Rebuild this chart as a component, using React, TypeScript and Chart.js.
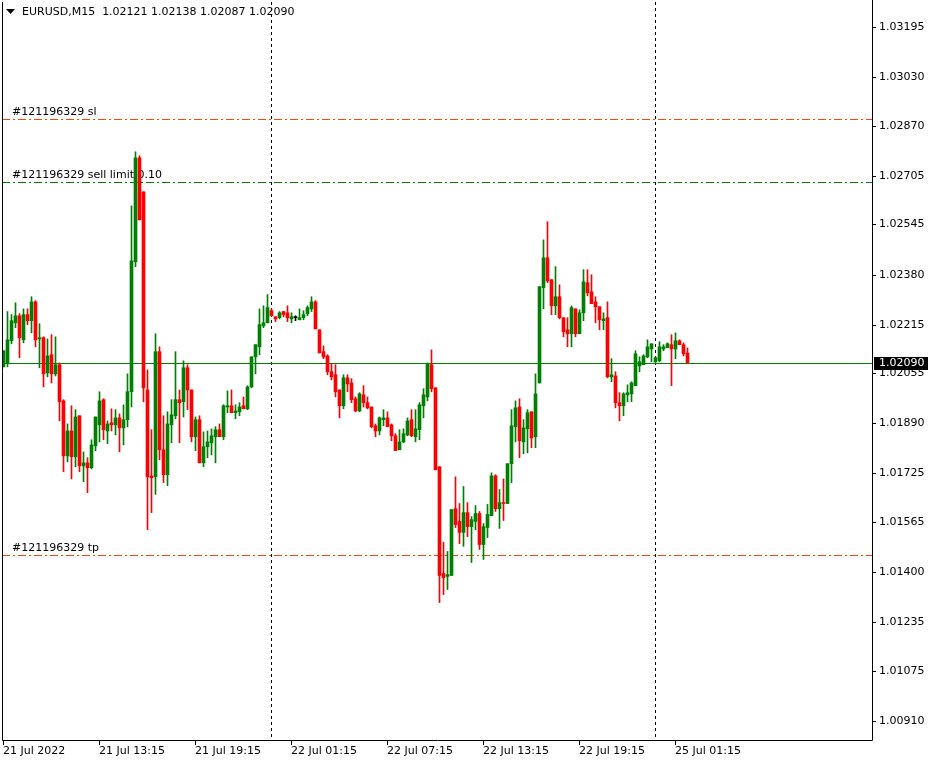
import React, { useEffect, useRef } from "react";
import { Chart, registerables } from "chart.js";

Chart.register(...registerables);

// ---- Data (EURUSD M15, 21 Jul 2022 07:15 onwards) ----
const openPrices = [
  1.02076, 1.02089, 1.02162, 1.02221, 1.02244, 1.02165, 1.02248, 1.02228, 1.0229, 1.02168,
  1.02172, 1.02056, 1.02116, 1.02053, 1.02083, 1.01964, 1.01783, 1.01865, 1.0178, 1.01915,
  1.0175, 1.0176, 1.01744, 1.01816, 1.01885, 1.01968, 1.01865, 1.01892, 1.01885, 1.01908,
  1.01875, 1.01902, 1.01994, 1.02422, 1.02764, 1.02652, 1.02, 1.01717, 1.01714, 1.02126,
  1.01803, 1.01721, 1.01885, 1.01915, 1.01968, 1.01961, 1.02073, 1.02, 1.01846, 1.01902,
  1.0176, 1.01813, 1.01826, 1.01846, 1.01869, 1.01846, 1.01944, 1.01948, 1.01925, 1.01928,
  1.01948, 1.01938, 1.0201, 1.02109, 1.02142, 1.02211, 1.02221, 1.02261, 1.02241, 1.02238,
  1.02258, 1.02254, 1.02234, 1.02238, 1.02231, 1.02238, 1.02251, 1.02267, 1.0229, 1.02198,
  1.02126, 1.02112, 1.0206, 1.0205, 1.02, 1.01948, 1.0204, 1.02023, 1.01971, 1.01931,
  1.01984, 1.01958, 1.01944, 1.01882, 1.01865, 1.01902, 1.01908, 1.01885, 1.01849, 1.01803,
  1.01829, 1.01852, 1.01902, 1.01846, 1.01869, 1.01948, 1.01977, 1.02083, 1.02007, 1.01747,
  1.01396, 1.01386, 1.01389, 1.01609, 1.01567, 1.01531, 1.01596, 1.0155, 1.01567, 1.01593,
  1.01491, 1.01547, 1.01586, 1.01717, 1.01609, 1.01629, 1.01626, 1.01757, 1.01879, 1.01944,
  1.01829, 1.01872, 1.01928, 1.01846, 1.02023, 1.02337, 1.02435, 1.02363, 1.02277, 1.02307,
  1.02238, 1.02198, 1.02185, 1.02267, 1.02185, 1.02254, 1.02353, 1.02323, 1.0229, 1.02274,
  1.02228, 1.02238, 1.02043, 1.02046, 1.01958, 1.01948, 1.01984, 1.01987, 1.02014, 1.02079,
  1.02083, 1.02109, 1.02135, 1.02093, 1.02096, 1.02135, 1.02139, 1.02149, 1.02135, 1.02162,
  1.02149, 1.02121,
];
const highPrices = [
  1.02129, 1.02258, 1.02248, 1.02287, 1.02251, 1.02267, 1.02267, 1.02307, 1.02294, 1.02218,
  1.02175, 1.02168, 1.02182, 1.02175, 1.02089, 1.01968, 1.01888, 1.01948, 1.01935, 1.01915,
  1.01796, 1.01777, 1.01836, 1.01911, 1.01994, 1.01971, 1.01898, 1.01938, 1.01935, 1.01921,
  1.01951, 1.02053, 1.02606, 1.02784, 1.02771, 1.02652, 1.02066, 1.01869, 1.02185, 1.02142,
  1.01915, 1.01928, 1.01968, 1.02126, 1.02, 1.02096, 1.02083, 1.02, 1.01911, 1.01915,
  1.01862, 1.01865, 1.01872, 1.01879, 1.01888, 1.01951, 1.01997, 1.02, 1.01951, 1.01958,
  1.01977, 1.02014, 1.02109, 1.02149, 1.02267, 1.02277, 1.02314, 1.02267, 1.02241, 1.02258,
  1.02258, 1.02277, 1.02254, 1.02244, 1.02267, 1.02261, 1.02277, 1.02307, 1.02294, 1.02198,
  1.02145, 1.02116, 1.02086, 1.02083, 1.02, 1.0205, 1.0205, 1.02037, 1.01977, 1.01991,
  1.02014, 1.01977, 1.01944, 1.01888, 1.01911, 1.01935, 1.01928, 1.01888, 1.01856, 1.01869,
  1.01872, 1.01908, 1.01935, 1.01935, 1.01958, 1.02004, 1.02089, 1.02132, 1.02007, 1.01747,
  1.01498, 1.01468, 1.01606, 1.01714, 1.01626, 1.01682, 1.01629, 1.01583, 1.01619, 1.016,
  1.0156, 1.01623, 1.01727, 1.01721, 1.01672, 1.01707, 1.01757, 1.01935, 1.01964, 1.01971,
  1.01902, 1.01935, 1.01928, 1.02053, 1.0234, 1.02494, 1.02554, 1.02363, 1.02406, 1.02346,
  1.02238, 1.02238, 1.02277, 1.02267, 1.02264, 1.02396, 1.02396, 1.02379, 1.02307, 1.02274,
  1.02254, 1.0229, 1.02103, 1.0206, 1.01991, 1.01991, 1.02017, 1.02027, 1.02129, 1.02109,
  1.02116, 1.02165, 1.02152, 1.02109, 1.02159, 1.02149, 1.02155, 1.02182, 1.02188, 1.02165,
  1.02155, 1.02138,
];
const lowPrices = [
  1.02076, 1.02076, 1.02152, 1.02205, 1.02106, 1.02155, 1.02215, 1.02188, 1.02142, 1.02073,
  1.0201, 1.02043, 1.02023, 1.02046, 1.01898, 1.01731, 1.01763, 1.01707, 1.01747, 1.01731,
  1.01698, 1.01662, 1.0174, 1.018, 1.01829, 1.01836, 1.01823, 1.01865, 1.01852, 1.01796,
  1.01819, 1.01879, 1.01944, 1.02406, 1.0256, 1.01961, 1.0154, 1.01596, 1.01656, 1.0177,
  1.01695, 1.01685, 1.01826, 1.01905, 1.01826, 1.01911, 1.01935, 1.01829, 1.018, 1.0176,
  1.01747, 1.01777, 1.01786, 1.0176, 1.01846, 1.01836, 1.01925, 1.01925, 1.01905, 1.01915,
  1.01938, 1.01935, 1.02007, 1.02053, 1.02116, 1.02205, 1.02221, 1.02244, 1.02225, 1.02234,
  1.02241, 1.02225, 1.02221, 1.02228, 1.02231, 1.02231, 1.02244, 1.02258, 1.02201, 1.02122,
  1.02103, 1.0205, 1.02033, 1.01977, 1.01908, 1.01938, 1.01994, 1.01958, 1.01928, 1.01928,
  1.01944, 1.01938, 1.01875, 1.01846, 1.01852, 1.01882, 1.01879, 1.01833, 1.018, 1.01803,
  1.01826, 1.01849, 1.01846, 1.01829, 1.01836, 1.01908, 1.01964, 1.01994, 1.01737, 1.013,
  1.01326, 1.01343, 1.01389, 1.01547, 1.01494, 1.01485, 1.01517, 1.01432, 1.0154, 1.01475,
  1.01442, 1.01514, 1.01586, 1.016, 1.01544, 1.0157, 1.01626, 1.01695, 1.01829, 1.01777,
  1.0179, 1.01793, 1.0181, 1.0181, 1.02023, 1.02267, 1.02353, 1.02248, 1.02248, 1.02234,
  1.02175, 1.02142, 1.02142, 1.02175, 1.02185, 1.02228, 1.0231, 1.02284, 1.02221, 1.02198,
  1.02198, 1.0204, 1.02027, 1.01941, 1.01898, 1.01915, 1.01961, 1.01961, 1.02014, 1.0206,
  1.02083, 1.02106, 1.02093, 1.02089, 1.02093, 1.02129, 1.02139, 1.02014, 1.02103, 1.02149,
  1.02112, 1.02087,
];
const closePrices = [
  1.02129, 1.02165, 1.02228, 1.02244, 1.02172, 1.02248, 1.02228, 1.0229, 1.02165, 1.02172,
  1.02053, 1.02112, 1.02053, 1.02083, 1.01961, 1.01783, 1.01865, 1.0178, 1.01911, 1.0175,
  1.0176, 1.01744, 1.01819, 1.01911, 1.01964, 1.01869, 1.01888, 1.01885, 1.01908, 1.01875,
  1.01902, 1.01994, 1.02425, 1.02764, 1.0256, 1.02007, 1.01714, 1.01711, 1.02126, 1.01803,
  1.01721, 1.01888, 1.01918, 1.01968, 1.01958, 1.02073, 1.02, 1.01846, 1.01902, 1.0176,
  1.01813, 1.01829, 1.01849, 1.01869, 1.01846, 1.01948, 1.01948, 1.01925, 1.01931, 1.01944,
  1.01938, 1.0201, 1.02109, 1.02149, 1.02215, 1.02221, 1.02271, 1.02244, 1.02234, 1.02254,
  1.02248, 1.02238, 1.02241, 1.02238, 1.02238, 1.02248, 1.02271, 1.0229, 1.02201, 1.02122,
  1.02109, 1.0206, 1.02043, 1.01994, 1.01948, 1.0204, 1.0202, 1.01968, 1.01931, 1.01987,
  1.01958, 1.01941, 1.01879, 1.01865, 1.01908, 1.01908, 1.01879, 1.01849, 1.018, 1.01829,
  1.01856, 1.01898, 1.01849, 1.01872, 1.01951, 1.01984, 1.02086, 1.02004, 1.01737, 1.01389,
  1.01382, 1.01392, 1.01606, 1.01557, 1.01531, 1.01596, 1.0155, 1.01573, 1.01593, 1.01491,
  1.0155, 1.0159, 1.01717, 1.01609, 1.01629, 1.01626, 1.01757, 1.01882, 1.01941, 1.01833,
  1.01875, 1.01925, 1.01842, 1.01987, 1.0234, 1.02435, 1.02359, 1.02277, 1.02307, 1.02238,
  1.02192, 1.02185, 1.02271, 1.02185, 1.02254, 1.02356, 1.0232, 1.02284, 1.02274, 1.02231,
  1.02234, 1.02043, 1.0205, 1.01958, 1.01948, 1.01987, 1.01991, 1.02023, 1.02119, 1.02093,
  1.02112, 1.02142, 1.02152, 1.02106, 1.02142, 1.02142, 1.02152, 1.02135, 1.02162, 1.02149,
  1.02119, 1.0209,
];

const symbolTitle = "EURUSD,M15";
const yTickValues = [
  1.0091, 1.01075, 1.01235, 1.014, 1.01565, 1.01725, 1.0189, 1.02055, 1.02215, 1.0238,
  1.02545, 1.02705, 1.0287, 1.0303, 1.03195,
];
const xTickIndex = [0, 24, 48, 72, 96, 120, 144, 168];
const xTickLabels = [
  "21 Jul 2022", "21 Jul 13:15", "21 Jul 19:15", "22 Jul 01:15",
  "22 Jul 07:15", "22 Jul 13:15", "22 Jul 19:15", "25 Jul 01:15",
];
const separatorIndex = [67, 163];
const orderLabels = ["#121196329 sl", "#121196329 sell limit 0.10", "#121196329 tp"];
const orderPrices = [1.02892, 1.02685, 1.01457];
const orderColors = ["#FF4500", "#008000", "#FF4500"];

const BULL = "#008000";
const BEAR = "#FF0000";
const DOJI = "#000000";
const FONT = "11px 'DejaVu Sans'";

function candleColor(i: number) {
  if (closePrices[i] > openPrices[i]) return BULL;
  if (closePrices[i] < openPrices[i]) return BEAR;
  return DOJI;
}

export default function App() {
  const canvasRef = useRef<HTMLCanvasElement | null>(null);

  useEffect(() => {
    const canvas = canvasRef.current;
    if (!canvas) return;
    const n = openPrices.length;
    const colors = openPrices.map((_, i) => candleColor(i));
    const bodies = openPrices.map((o, i) => ({ x: i, y: [o, closePrices[i]] }));
    const wicks = openPrices.map((_, i) => ({ x: i, y: [lowPrices[i], highPrices[i]] }));
    const lastClose = closePrices[n - 1];

    const overlay = {
      id: "mtOverlay",
      beforeDatasetsDraw(chart: any) {
        const ctx = chart.ctx;
        const a = chart.chartArea;
        const xs = chart.scales.x;
        const ys = chart.scales.y;
        ctx.save();
        // day separators
        ctx.strokeStyle = "#000000";
        ctx.lineWidth = 1;
        ctx.setLineDash([3, 3]);
        separatorIndex.forEach((idx) => {
          const x = Math.floor(xs.getPixelForValue(idx)) + 0.5;
          ctx.beginPath();
          ctx.moveTo(x, a.top);
          ctx.lineTo(x, a.bottom);
          ctx.stroke();
        });
        // order lines
        ctx.font = FONT;
        ctx.textBaseline = "middle";
        ctx.textAlign = "left";
        orderPrices.forEach((p, k) => {
          const y = Math.round(ys.getPixelForValue(p)) + 0.5;
          ctx.strokeStyle = orderColors[k];
          ctx.setLineDash([8, 3, 2, 3]);
          ctx.beginPath();
          ctx.moveTo(a.left, y);
          ctx.lineTo(a.right, y);
          ctx.stroke();
          ctx.fillStyle = "#000000";
          ctx.fillText(orderLabels[k], 12, y - 7);
        });
        // bid line
        ctx.setLineDash([]);
        const by = Math.round(ys.getPixelForValue(lastClose)) + 0.5;
        ctx.strokeStyle = "#008000";
        ctx.beginPath();
        ctx.moveTo(a.left, by);
        ctx.lineTo(a.right, by);
        ctx.stroke();
        ctx.restore();
      },
      afterDraw(chart: any) {
        const ctx = chart.ctx;
        const a = chart.chartArea;
        const xs = chart.scales.x;
        const ys = chart.scales.y;
        ctx.save();
        ctx.setLineDash([]);
        ctx.strokeStyle = "#000000";
        ctx.lineWidth = 1;
        // frame
        ctx.beginPath();
        ctx.moveTo(a.left + 0.5, a.top);
        ctx.lineTo(a.left + 0.5, a.bottom + 0.5);
        ctx.lineTo(a.right + 0.5, a.bottom + 0.5);
        ctx.lineTo(a.right + 0.5, a.top - 2);
        ctx.stroke();
        // y ticks and labels
        ctx.font = FONT;
        ctx.textAlign = "left";
        ctx.textBaseline = "middle";
        ctx.fillStyle = "#000000";
        yTickValues.forEach((v) => {
          const y = Math.round(ys.getPixelForValue(v)) + 0.5;
          ctx.beginPath();
          ctx.moveTo(a.right, y);
          ctx.lineTo(a.right + 4, y);
          ctx.stroke();
          ctx.fillText(v.toFixed(5), a.right + 7, y);
        });
        // bid price box
        const by = Math.round(ys.getPixelForValue(lastClose));
        ctx.fillStyle = "#000000";
        ctx.fillRect(a.right + 2, by - 6, 54, 13);
        ctx.fillStyle = "#FFFFFF";
        ctx.fillText(lastClose.toFixed(5), a.right + 7, by + 0.5);
        // x ticks and labels
        ctx.fillStyle = "#000000";
        ctx.textBaseline = "middle";
        xTickIndex.forEach((idx, k) => {
          const x = Math.floor(xs.getPixelForValue(idx)) + 0.5;
          ctx.beginPath();
          ctx.moveTo(x, a.bottom);
          ctx.lineTo(x, a.bottom + 5);
          ctx.stroke();
          ctx.fillText(xTickLabels[k], x - 0.5, a.bottom + 11);
        });
        // title
        ctx.beginPath();
        ctx.moveTo(6, 9);
        ctx.lineTo(15, 9);
        ctx.lineTo(10.5, 14);
        ctx.closePath();
        ctx.fill();
        const title =
          symbolTitle + "  " +
          [openPrices[n - 1], highPrices[n - 1], lowPrices[n - 1], lastClose]
            .map((v) => v.toFixed(5))
            .join(" ");
        ctx.fillText(title, 22, 12);
        ctx.restore();
      },
    };

    const chart = new Chart(canvas, {
      type: "bar",
      data: {
        datasets: [
          {
            data: bodies as any,
            backgroundColor: colors,
            barThickness: 3,
            minBarLength: 1,
            grouped: false,
            borderWidth: 0,
            borderSkipped: false,
          } as any,
          {
            data: wicks as any,
            backgroundColor: colors,
            barThickness: 1,
            minBarLength: 1,
            grouped: false,
            borderWidth: 0,
            borderSkipped: false,
          } as any,
        ],
      },
      options: {
        animation: false,
        responsive: false,
        devicePixelRatio: 1,
        events: [],
        layout: { padding: { left: 2, top: 2, right: 64, bottom: 24 } },
        plugins: { legend: { display: false }, tooltip: { enabled: false } },
        scales: {
          x: { type: "linear", display: false, min: -0.375, max: 217.125, offset: false },
          y: { type: "linear", display: false, min: 1.008474, max: 1.032773 },
        },
      },
      plugins: [overlay],
    });
    return () => chart.destroy();
  }, []);

  return (
    <div style={{ position: "fixed", left: 0, top: 0, width: 936, height: 764, background: "#ffffff" }}>
      <canvas ref={canvasRef} width={936} height={764} style={{ width: 936, height: 764, display: "block" }} />
    </div>
  );
}
